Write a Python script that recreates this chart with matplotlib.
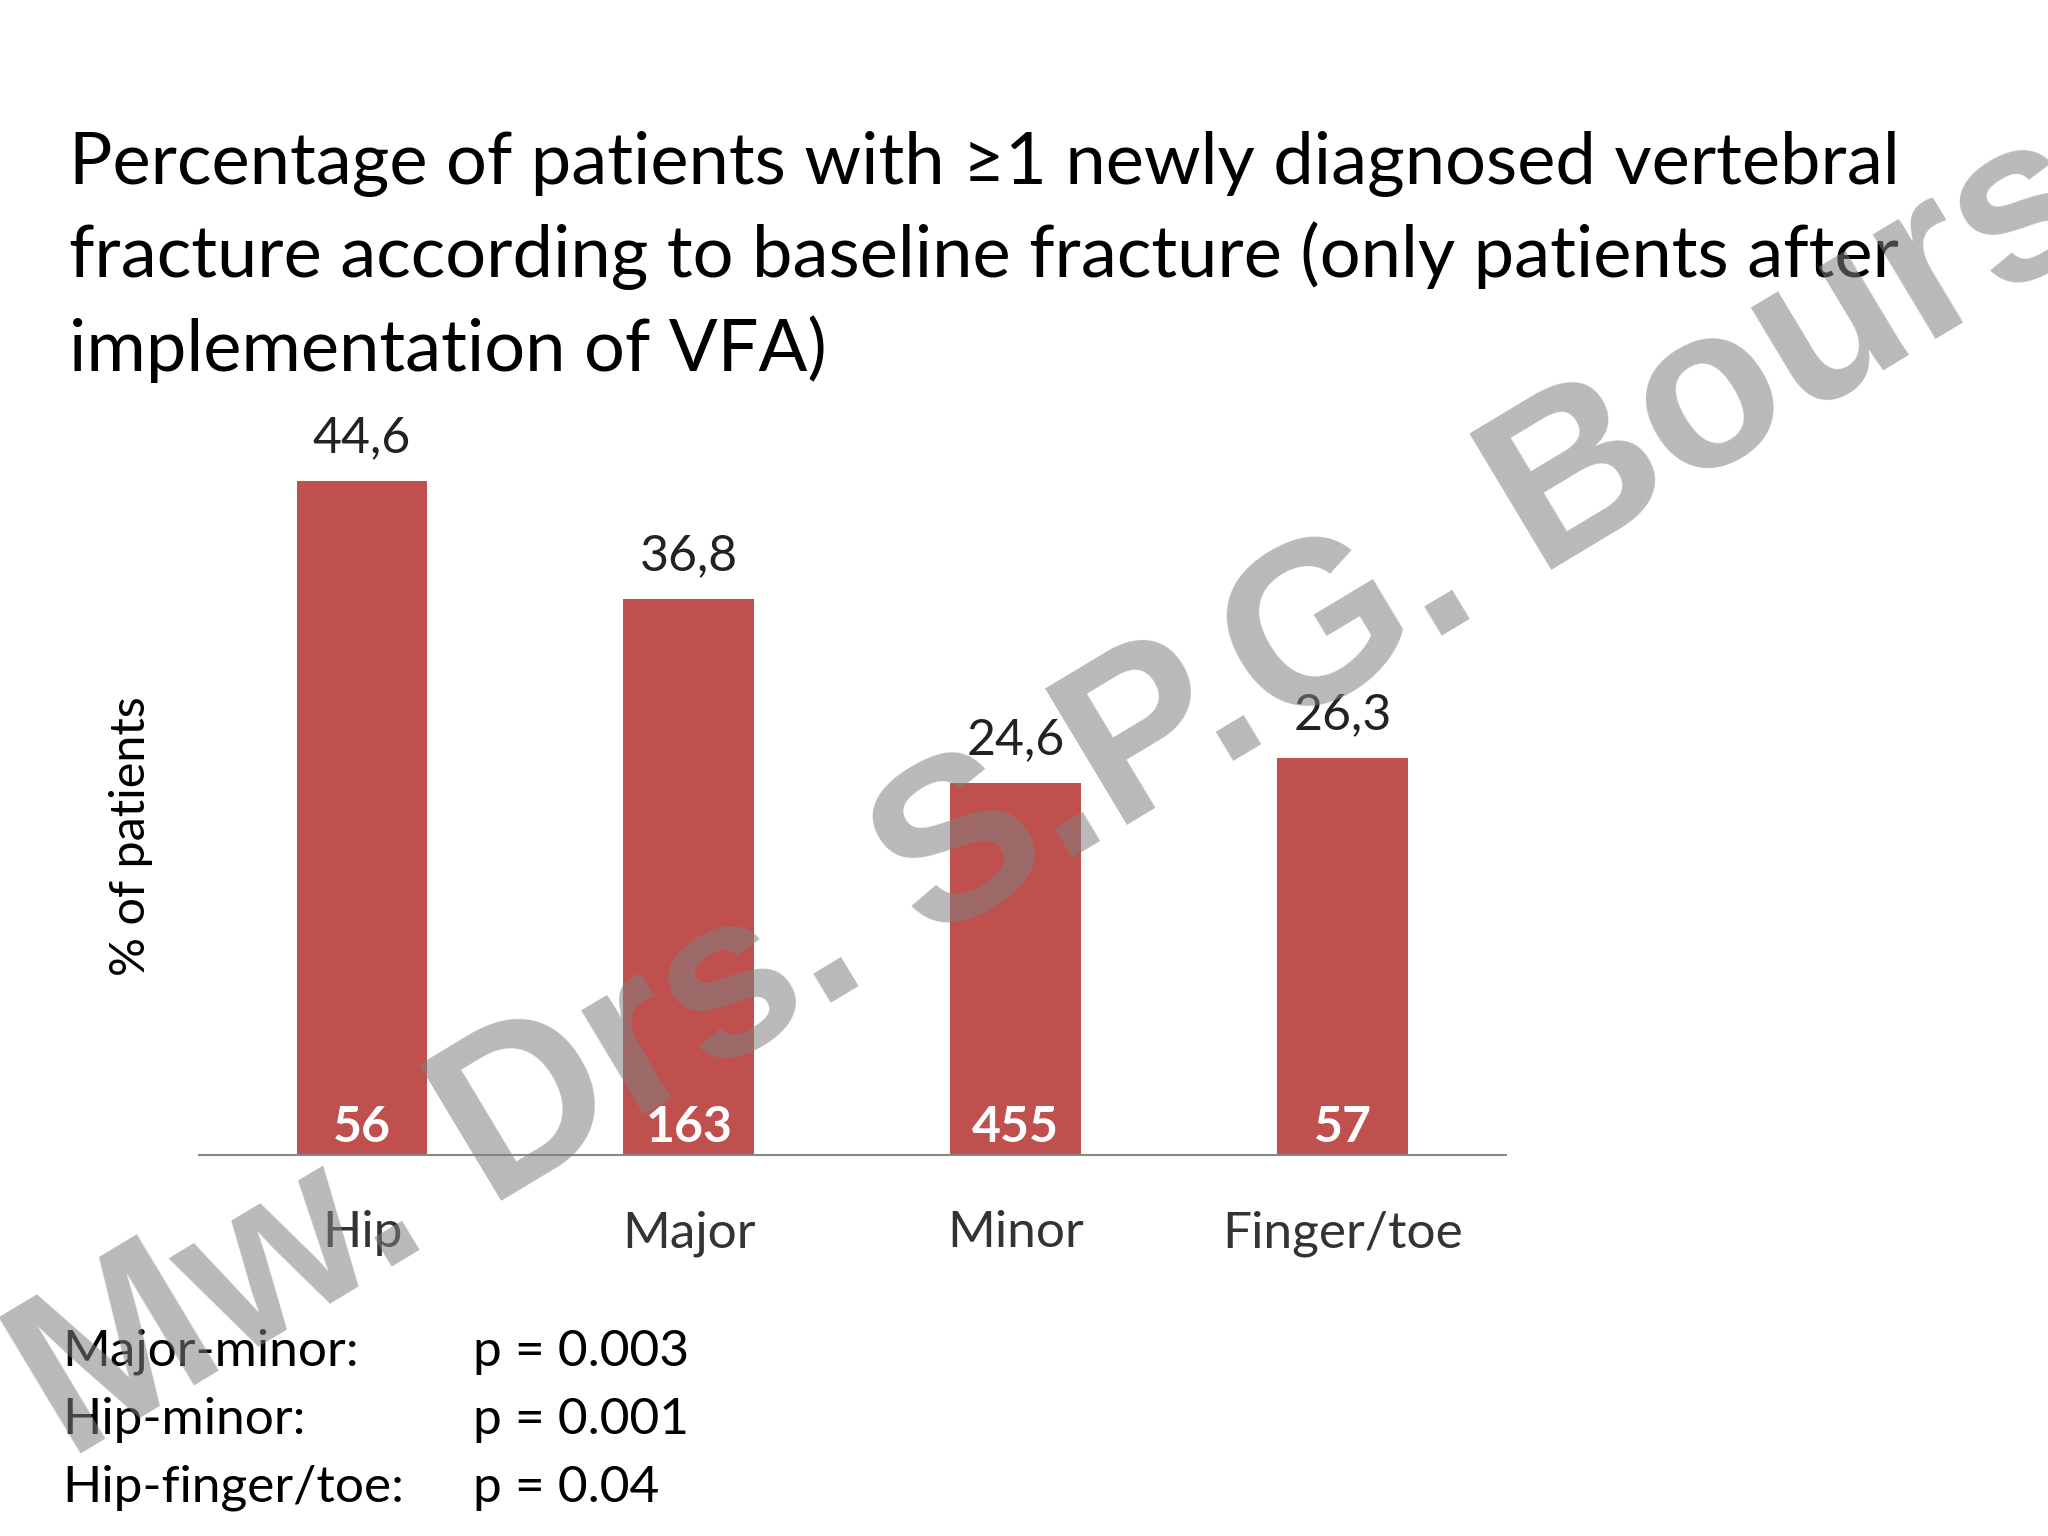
import matplotlib
matplotlib.use("Agg")
import matplotlib.pyplot as plt

categories = ["Hip", "Major", "Minor", "Finger/toe"]
values = [44.6, 36.8, 24.6, 26.3]
value_labels = ["44,6", "36,8", "24,6", "26,3"]
counts = ["56", "163", "455", "57"]
pairs = ["Major-minor:", "Hip-minor:", "Hip-finger/toe:"]
pvals = ["p = 0.003", "p = 0.001", "p = 0.04"]

plt.rcParams['font.family'] = ['Lato', 'DejaVu Sans']
fig = plt.figure(figsize=(20.48, 15.36), dpi=100)
W, H = 1568, 1176
def fx(x): return x / W
def fy(y): return 1 - y / H

ax = fig.add_axes([fx(152), fy(884), fx(1153) - fx(152), fy(306) - fy(884)])
x = range(len(categories))
bars = ax.bar(x, values, width=0.4, color="#C0504D")
ax.set_xlim(-0.5, 3.5)
ax.set_ylim(0, 50)
for s in ["top", "right", "left"]:
    ax.spines[s].set_visible(False)
ax.spines["bottom"].set_color("#888888")
ax.spines["bottom"].set_linewidth(1.5)
ax.set_yticks([])
ax.set_xticks(list(x))
ax.set_xticklabels(categories, fontsize=37, color="#333333")
ax.tick_params(axis="x", length=0, pad=40)
for i, (v, lab, c) in enumerate(zip(values, value_labels, counts)):
    ax.text(i, v + 1.3, lab, ha="center", va="bottom", fontsize=36, color="#222222")
    ax.text(i, 0.3, c, ha="center", va="bottom", fontsize=36, color="white", fontweight="bold")

fig.text(fx(100), fy(640), "% of patients", rotation=90, ha="center", va="center", fontsize=35)
fig.text(fx(53), fy(100), "Percentage of patients with ≥1 newly diagnosed vertebral\n"
         "fracture according to baseline fracture (only patients after\n"
         "implementation of VFA)", ha="left", va="top", fontsize=52, linespacing=1.45)

for i, (p, pv) in enumerate(zip(pairs, pvals)):
    yy = 1035 + i * 52
    fig.text(fx(48), fy(yy), p, ha="left", va="center", fontsize=37)
    fig.text(fx(362), fy(yy), pv, ha="left", va="center", fontsize=37)

fig.text(fx(810), fy(610), "Mw. Drs. S.P.G. Bours", rotation=31, ha="center", va="center",
         fontsize=166, fontweight="bold", family="Liberation Sans", color="#808080", alpha=0.55)

fig.savefig("out.png", dpi=100)
